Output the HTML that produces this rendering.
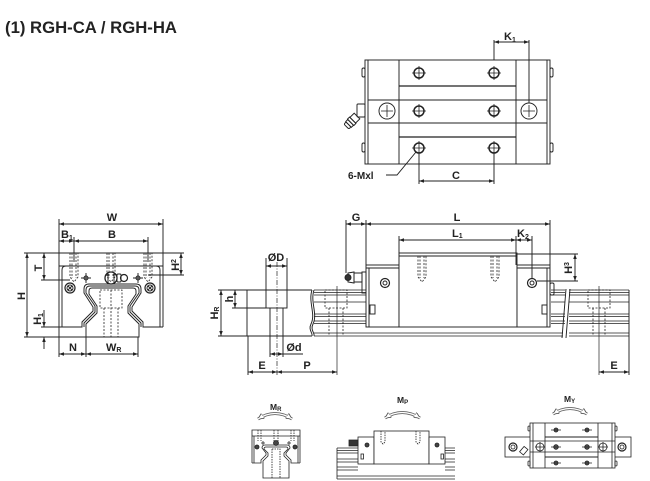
<!DOCTYPE html>
<html>
<head>
<meta charset="utf-8">
<style>
  html,body{margin:0;padding:0;background:#fff;}
  svg{display:block;}
  text{font-family:"Liberation Sans",sans-serif;font-weight:bold;fill:#222;}
</style>
</head>
<body>
<svg width="650" height="481" viewBox="0 0 650 481" xmlns="http://www.w3.org/2000/svg">
<defs>
  <marker id="a" viewBox="0 0 10 10" refX="10" refY="5" markerUnits="userSpaceOnUse" markerWidth="5" markerHeight="5" orient="auto-start-reverse">
    <path d="M0,1.5 L10,5 L0,8.5 z" fill="#222"/>
  </marker>
  <marker id="b" viewBox="0 0 10 10" refX="10" refY="5" markerUnits="userSpaceOnUse" markerWidth="6" markerHeight="6" orient="auto-start-reverse">
    <path d="M0,0 L10,5 L0,10 z" fill="#fff" stroke="#555" stroke-width="1.5"/>
  </marker>
</defs>

<!-- Title -->
<text x="5" y="33" font-size="17" textLength="172" lengthAdjust="spacingAndGlyphs">(1) RGH-CA / RGH-HA</text>

<!-- ================= TOP VIEW ================= -->
<g stroke="#222" fill="none" stroke-width="0.95">
  <rect x="365" y="60" width="185" height="104"/>
  <line x1="368" y1="60" x2="368" y2="164"/>
  <line x1="547" y1="60" x2="547" y2="164"/>
  <line x1="399" y1="60" x2="399" y2="164"/>
  <line x1="516" y1="60" x2="516" y2="164"/>
  <line x1="368" y1="100" x2="547" y2="100"/>
  <line x1="368" y1="123" x2="547" y2="123"/>
  <line x1="399" y1="86" x2="516" y2="86" stroke-width="1.3"/>
  <line x1="399" y1="137" x2="516" y2="137" stroke-width="1.3"/>
  <rect x="362" y="68" width="3" height="9" rx="1.5"/>
  <rect x="362" y="143" width="3" height="9" rx="1.5"/>
  <rect x="550" y="68" width="3" height="9" rx="1.5"/>
  <rect x="550" y="143" width="3" height="9" rx="1.5"/>
  <g stroke-width="1.5">
    <circle cx="419" cy="73" r="5"/><circle cx="494" cy="73" r="5"/>
    <circle cx="419" cy="111" r="5"/><circle cx="494" cy="111" r="5"/>
    <circle cx="419" cy="148" r="5"/><circle cx="494" cy="148" r="5"/>
  </g>
  <circle cx="387" cy="111" r="8"/>
  <circle cx="529" cy="111" r="8"/>
  <g stroke-width="0.8">
    <path d="M412,73 H426 M419,66 V80 M487,73 H501 M494,66 V80"/>
    <path d="M412,111 H426 M419,104 V118 M487,111 H501 M494,104 V118"/>
    <path d="M412,148 H426 M419,141 V155 M487,148 H501 M494,141 V155"/>
    <path d="M381,111 H393 M387,105 V117 M523,111 H535 M529,105 V117"/>
  </g>
  <rect x="357" y="104" width="8" height="13" rx="1"/>
  <g transform="translate(357,116) rotate(45)">
    <rect x="-4" y="0" width="8" height="6"/>
    <rect x="-4.5" y="6" width="9" height="3"/>
    <rect x="-4" y="9" width="8" height="3"/>
    <rect x="-3.5" y="12" width="7" height="3" rx="1.5"/>
  </g>
  <line x1="494" y1="40" x2="494" y2="60"/>
  <line x1="529" y1="40" x2="529" y2="103"/>
  <line x1="494" y1="42" x2="529" y2="42" marker-start="url(#a)" marker-end="url(#a)"/>
  <line x1="419" y1="154" x2="419" y2="184"/>
  <line x1="494" y1="154" x2="494" y2="184"/>
  <line x1="419" y1="181" x2="494" y2="181" marker-start="url(#a)" marker-end="url(#a)"/>
  <path d="M386,175 H397 L416,152"/>
</g>
<text x="504" y="40" font-size="11">K<tspan font-size="7" dy="2">1</tspan></text>
<text x="456" y="179" font-size="11" text-anchor="middle">C</text>
<text x="348" y="179" font-size="10">6-Mxl</text>

<!-- ================= FRONT VIEW ================= -->
<g stroke="#222" fill="none" stroke-width="0.95">
  <path d="M59,327 V253 H163 V327"/>
  <line x1="59" y1="266" x2="163" y2="266"/>
  <path d="M62,327 V270 Q62,266 66,266"/>
  <path d="M160,327 V270 Q160,266 156,266"/>
  <path d="M59,327 H82 V322 L93,311 V307 L84,293 V289 Q84,284 89,284 H136 Q141,284 141,289 V293 L132,307 V311 L143,322 V327 H163"/>
  <path d="M84,327 V323 L95,312 V306 L86,293 V290 Q86,286 90,286 H135 Q139,286 139,290 V293 L130,306 V312 L141,323 V327"/>
  <path d="M86,337 V324 L97,313 V306 L89,294 V291 Q89,288 92,288 H133 Q136,288 136,291 V294 L128,306 V313 L139,324 V337 Z"/>
  <g stroke-dasharray="2,1.5" stroke-width="0.8">
    <rect x="100" y="290" width="22" height="18"/>
    <path d="M104,308 V337 M118,308 V337 M111,290 V337"/>
  </g>
  <g stroke-dasharray="2,1.5" stroke-width="0.8">
    <path d="M70,253 V277 L74,282 L78,277 V253 M72,253 V278 M76,253 V278"/>
    <path d="M107,253 V277 L111,282 L115,277 V253 M109,253 V278 M113,253 V278"/>
    <path d="M144,253 V277 L148,282 L152,277 V253 M146,253 V278 M150,253 V278"/>
  </g>
  <circle cx="86" cy="278" r="2"/><path d="M81,278 H91 M86,273 V283"/>
  <circle cx="138" cy="278" r="2"/><path d="M133,278 H143 M138,273 V283"/>
  <circle cx="111" cy="278" r="6" stroke-width="1.3"/>
  <path d="M108,273 V283 M114,273 V283"/>
  <rect x="117" y="274" width="4" height="8" rx="1"/>
  <circle cx="124" cy="278" r="3.5" stroke-width="1.2"/>
  <circle cx="70" cy="288" r="5" stroke-width="1.2"/><circle cx="70" cy="288" r="3"/>
  <path d="M68,286 L72,290 M72,286 L68,290"/>
  <circle cx="150" cy="288" r="5" stroke-width="1.2"/><circle cx="150" cy="288" r="3"/>
  <path d="M148,286 L152,290 M152,286 L148,290"/>
  <line x1="59" y1="219" x2="59" y2="253"/>
  <line x1="163" y1="219" x2="163" y2="253"/>
  <line x1="59" y1="224" x2="163" y2="224" marker-start="url(#a)" marker-end="url(#a)"/>
  <line x1="74" y1="237" x2="74" y2="262"/>
  <line x1="148" y1="237" x2="148" y2="262"/>
  <line x1="59" y1="241" x2="74" y2="241" marker-start="url(#a)" marker-end="url(#a)"/>
  <line x1="74" y1="241" x2="148" y2="241" marker-start="url(#a)" marker-end="url(#a)"/>
  <line x1="24" y1="253" x2="59" y2="253"/>
  <line x1="24" y1="337" x2="86" y2="337"/>
  <line x1="27" y1="253" x2="27" y2="337" marker-start="url(#a)" marker-end="url(#a)"/>
  <line x1="41" y1="280" x2="70" y2="280"/>
  <line x1="44" y1="253" x2="44" y2="280" marker-start="url(#a)" marker-end="url(#a)"/>
  <line x1="41" y1="327" x2="59" y2="327"/>
  <line x1="44" y1="310" x2="44" y2="327" marker-end="url(#a)"/>
  <line x1="44" y1="349" x2="44" y2="337" marker-end="url(#a)"/>
  <line x1="163" y1="253" x2="184" y2="253"/>
  <line x1="148" y1="275" x2="184" y2="275"/>
  <line x1="181" y1="253" x2="181" y2="275" marker-start="url(#a)" marker-end="url(#a)"/>
  <line x1="59" y1="327" x2="59" y2="357"/>
  <line x1="86" y1="337" x2="86" y2="357"/>
  <line x1="138" y1="337" x2="138" y2="357"/>
  <line x1="59" y1="354" x2="86" y2="354" marker-start="url(#a)" marker-end="url(#a)"/>
  <line x1="86" y1="354" x2="138" y2="354" marker-start="url(#a)" marker-end="url(#a)"/>
</g>
<text x="112" y="221" font-size="11" text-anchor="middle">W</text>
<text x="61" y="238" font-size="11">B<tspan font-size="7" dy="2">1</tspan></text>
<text x="112" y="238" font-size="11" text-anchor="middle">B</text>
<text transform="translate(25,296) rotate(-90)" font-size="11" text-anchor="middle">H</text>
<text transform="translate(42,268) rotate(-90)" font-size="11" text-anchor="middle">T</text>
<text transform="translate(41,319) rotate(-90)" font-size="11" text-anchor="middle">H<tspan font-size="7" dy="2">1</tspan></text>
<text transform="translate(179,265) rotate(-90)" font-size="11" text-anchor="middle">H<tspan font-size="7" dy="-3">2</tspan></text>
<text x="73" y="351" font-size="11" text-anchor="middle">N</text>
<text x="106" y="351" font-size="11">W<tspan font-size="7" dy="1">R</tspan></text>

<!-- ================= SIDE VIEW ================= -->
<g stroke="#222" fill="none" stroke-width="0.95">
  <line x1="247" y1="290" x2="247" y2="336"/>
  <line x1="218" y1="290" x2="312" y2="290"/>
  <line x1="218" y1="336" x2="312" y2="336"/>
  <path d="M312,290 C308,302 316,314 311,324 C308,330 313,333 312,336"/>
  <path d="M314,290 C310,302 318,314 313,324 C310,330 315,333 314,336"/>
  <rect x="266" y="266" width="21" height="42"/>
  <path d="M270,308 V336 M283,308 V336"/>
  <line x1="277" y1="262" x2="277" y2="375" stroke-dasharray="5,1.5,1,1.5" stroke-width="0.7"/>
  <g stroke-width="0.8">
    <path d="M314,290 H366 M314,292.5 H366 M314,295 H366 M314,302 H366 M314,314 H366 M314,316.5 H366 M314,321 H366 M314,323.5 H366"/>
    <path d="M314,333 H563 M314,336 H563"/>
    <path d="M551,290 H565 M551,292.5 H565 M551,295 H565 M551,302 H565 M551,314 H565 M551,316.5 H565 M551,321 H565 M551,323.5 H565"/>
    <path d="M569,290 H629 M569,292.5 H629 M569,295 H629 M569,302 H629 M569,314 H629 M569,316.5 H629 M569,321 H629 M569,323.5 H629 M569,333 H629 M569,336 H629"/>
  </g>
  <line x1="629" y1="290" x2="629" y2="336"/>
  <path d="M566,289 L562,338 M570,289 L566,338"/>
  <g stroke-dasharray="2,1.5" stroke-width="0.8">
    <rect x="325" y="290" width="22" height="18"/>
    <path d="M329,308 V336 M343,308 V336"/>
    <rect x="588" y="290" width="22" height="18"/>
    <path d="M593,308 V336 M605,308 V336"/>
  </g>
  <line x1="337" y1="286" x2="337" y2="375" stroke-width="0.7"/>
  <line x1="599" y1="286" x2="599" y2="375" stroke-width="0.7"/>
  <rect x="366" y="265" width="33" height="62" fill="#fff"/>
  <line x1="366" y1="268" x2="399" y2="268"/>
  <rect x="399" y="253" width="118" height="74" fill="#fff"/>
  <line x1="399" y1="256" x2="517" y2="256"/>
  <rect x="517" y="265" width="33" height="62" fill="#fff"/>
  <line x1="517" y1="268" x2="550" y2="268"/>
  <line x1="547" y1="268" x2="547" y2="327"/>
  <line x1="369" y1="268" x2="369" y2="327"/>
  <rect x="362" y="272" width="4" height="21"/>
  <rect x="550" y="283" width="4" height="12" rx="1.5"/>
  <circle cx="385" cy="283" r="4.5" stroke-width="1.2"/><circle cx="385" cy="283" r="2"/>
  <circle cx="532" cy="283" r="4.5" stroke-width="1.2"/><circle cx="532" cy="283" r="2"/>
  <rect x="370" y="305" width="5" height="9"/>
  <rect x="542" y="305" width="5" height="9"/>
  <g stroke-dasharray="2,1.5" stroke-width="0.8">
    <path d="M418,256 V277 L422,282 L426,277 V256 M420,256 V278 M424,256 V278"/>
    <path d="M491,256 V277 L495,282 L499,277 V256 M493,256 V278 M497,256 V278"/>
  </g>
  <path d="M354,273 H362 V282 H354 Z"/>
  <path d="M348,273 L354,272 L354,283 L348,282 Z" stroke-width="1"/>
  <circle cx="348" cy="277.5" r="3" fill="#333"/>
  <line x1="221" y1="290" x2="221" y2="336" marker-start="url(#a)" marker-end="url(#a)"/>
  <line x1="232" y1="308" x2="266" y2="308"/>
  <line x1="235" y1="290" x2="235" y2="308" marker-start="url(#a)" marker-end="url(#a)"/>
  <line x1="266" y1="258" x2="266" y2="266"/>
  <line x1="287" y1="258" x2="287" y2="266"/>
  <line x1="266" y1="266" x2="287" y2="266" marker-start="url(#a)" marker-end="url(#a)"/>
  <line x1="270" y1="336" x2="270" y2="357"/>
  <line x1="283" y1="336" x2="283" y2="357"/>
  <line x1="270" y1="354" x2="283" y2="354" marker-start="url(#a)" marker-end="url(#a)"/>
  <line x1="283" y1="354" x2="303" y2="354"/>
  <line x1="248" y1="336" x2="248" y2="375"/>
  <line x1="248" y1="372" x2="277" y2="372" marker-start="url(#a)" marker-end="url(#a)"/>
  <line x1="277" y1="372" x2="337" y2="372" marker-start="url(#a)" marker-end="url(#a)"/>
  <line x1="629" y1="336" x2="629" y2="375"/>
  <line x1="599" y1="372" x2="629" y2="372" marker-start="url(#a)" marker-end="url(#a)"/>
  <line x1="346" y1="220" x2="346" y2="273"/>
  <line x1="366" y1="220" x2="366" y2="265"/>
  <line x1="550" y1="220" x2="550" y2="265"/>
  <line x1="346" y1="224" x2="366" y2="224" marker-start="url(#a)" marker-end="url(#a)"/>
  <line x1="366" y1="224" x2="550" y2="224" marker-start="url(#a)" marker-end="url(#a)"/>
  <line x1="399" y1="236" x2="399" y2="253"/>
  <line x1="516" y1="236" x2="516" y2="265"/>
  <line x1="532" y1="236" x2="532" y2="279"/>
  <line x1="399" y1="240" x2="516" y2="240" marker-start="url(#a)" marker-end="url(#a)"/>
  <line x1="516" y1="240" x2="532" y2="240" marker-start="url(#a)" marker-end="url(#a)"/>
  <line x1="517" y1="254" x2="578" y2="254"/>
  <line x1="537" y1="281" x2="578" y2="281"/>
  <line x1="575" y1="254" x2="575" y2="281" marker-start="url(#a)" marker-end="url(#a)"/>
</g>
<text transform="translate(218,313) rotate(-90)" font-size="11" text-anchor="middle">H<tspan font-size="7" dy="1">R</tspan></text>
<text transform="translate(233,299) rotate(-90)" font-size="11" text-anchor="middle">h</text>
<text x="276" y="261" font-size="11" text-anchor="middle">ØD</text>
<text x="294" y="351" font-size="11" text-anchor="middle">Ød</text>
<text x="262" y="369" font-size="11" text-anchor="middle">E</text>
<text x="307" y="369" font-size="11" text-anchor="middle">P</text>
<text x="614" y="369" font-size="11" text-anchor="middle">E</text>
<text x="356" y="221" font-size="11" text-anchor="middle">G</text>
<text x="457" y="221" font-size="11" text-anchor="middle">L</text>
<text x="452" y="237" font-size="11">L<tspan font-size="7" dy="1">1</tspan></text>
<text x="517" y="237" font-size="11">K<tspan font-size="7" dy="2">2</tspan></text>
<text transform="translate(572,268) rotate(-90)" font-size="11" text-anchor="middle">H<tspan font-size="7" dy="-3">3</tspan></text>

<!-- ================= MOMENT ICONS ================= -->
<g fill="none">
  <path d="M258,419 Q275,408 292,419" stroke="#666" stroke-width="3" marker-start="url(#b)" marker-end="url(#b)"/>
  <path d="M258,419 Q275,408 292,419" stroke="#fff" stroke-width="1.2"/>
  <path d="M385,418 Q402,407 420,418" stroke="#666" stroke-width="3" marker-start="url(#b)" marker-end="url(#b)"/>
  <path d="M385,418 Q402,407 420,418" stroke="#fff" stroke-width="1.2"/>
  <path d="M553,414 Q570,403 587,414" stroke="#666" stroke-width="3" marker-start="url(#b)" marker-end="url(#b)"/>
  <path d="M553,414 Q570,403 587,414" stroke="#fff" stroke-width="1.2"/>
</g>
<text x="270" y="410" font-size="8.5">M<tspan font-size="6" dy="1">R</tspan></text>
<text x="397" y="403" font-size="8.5">M<tspan font-size="6" dy="1">P</tspan></text>
<text x="564" y="402" font-size="8.5">M<tspan font-size="6" dy="1">Y</tspan></text>

<!-- MR icon -->
<g stroke="#222" fill="none" stroke-width="0.8">
  <path d="M252,463 V430 H300 V463"/>
  <line x1="252" y1="436" x2="300" y2="436"/>
  <line x1="254" y1="436" x2="254" y2="463"/>
  <line x1="298" y1="436" x2="298" y2="463"/>
  <path d="M252,463 H261 V460 L266,455 V453 L262,448 Q262,445 265,445 H287 Q290,445 290,448 L286,453 V455 L291,460 V463 H300"/>
  <path d="M263,478 V461 L268,456 V453 L264,449 Q264,447 266,447 H286 Q288,447 288,449 L284,453 V456 L289,461 V478 Z"/>
  <path d="M272,449 H280 V478 M272,449 V478" stroke-dasharray="1.5,1"/>
  <path d="M258,430 V441 M261,430 V441 M274,430 V441 M278,430 V441 M291,430 V441 M294,430 V441" stroke-dasharray="1.5,1"/>
  <circle cx="276" cy="443" r="2.5" fill="#444"/>
  <circle cx="257" cy="447" r="2" fill="#444"/>
  <circle cx="295" cy="447" r="2" fill="#444"/>
  <path d="M261,443 h4 M263,441 v4 M287,443 h4 M289,441 v4"/>
</g>

<!-- MP icon -->
<g stroke="#222" fill="none" stroke-width="0.8">
  <path d="M337,448 H358 M337,450.5 H358 M337,453 H358 M337,459 H358 M337,462 H358 M337,467 H358 M337,470 H358"/>
  <path d="M445,448 H455 M445,450.5 H455 M445,453 H455 M445,459 H455 M445,462 H455 M445,467 H455 M445,470 H455"/>
  <path d="M337,448 V479"/>
  <path d="M337,476 H455 M337,479 H455"/>
  <rect x="358" y="437" width="16" height="27" fill="#fff"/>
  <rect x="374" y="431" width="55" height="33" fill="#fff"/>
  <rect x="429" y="437" width="16" height="27" fill="#fff"/>
  <circle cx="367" cy="445" r="2" fill="#444"/>
  <circle cx="437" cy="445" r="2" fill="#444"/>
  <rect x="361" y="454" width="2.5" height="5"/>
  <rect x="441" y="454" width="2.5" height="5"/>
  <path d="M381,431 V442 L383,444 L385,442 V431 M416,431 V442 L418,444 L420,442 V431" stroke-dasharray="1.5,1"/>
  <path d="M349,440 H358 V446 H349 Z" fill="#333"/>
</g>

<!-- MY icon -->
<g stroke="#222" fill="none" stroke-width="0.8">
  <rect x="505" y="437" width="126" height="20"/>
  <rect x="530" y="423" width="85" height="45" fill="#fff"/>
  <line x1="533" y1="423" x2="533" y2="468"/>
  <line x1="612" y1="423" x2="612" y2="468"/>
  <line x1="545" y1="423" x2="545" y2="468"/>
  <line x1="598" y1="423" x2="598" y2="468"/>
  <line x1="530" y1="441" x2="615" y2="441"/>
  <line x1="530" y1="452" x2="615" y2="452"/>
  <line x1="545" y1="437" x2="598" y2="437" stroke-width="1.1"/>
  <line x1="545" y1="457" x2="598" y2="457" stroke-width="1.1"/>
  <circle cx="513" cy="447" r="4" stroke-width="1.2"/><circle cx="513" cy="447" r="2"/>
  <circle cx="622" cy="447" r="4" stroke-width="1.2"/><circle cx="622" cy="447" r="2"/>
  <circle cx="540" cy="447" r="4"/><path d="M535,447 H545 M540,442 V452"/>
  <circle cx="603" cy="447" r="4"/><path d="M598,447 H608 M603,442 V452"/>
  <g fill="#555">
    <circle cx="556" cy="430" r="2"/><circle cx="587" cy="430" r="2"/>
    <circle cx="556" cy="447" r="2.3"/><circle cx="587" cy="447" r="2.3"/>
    <circle cx="556" cy="463" r="2"/><circle cx="587" cy="463" r="2"/>
  </g>
  <path d="M551,430 H561 M582,430 H592 M551,447 H561 M582,447 H592 M551,463 H561 M582,463 H592"/>
  <rect x="528" y="426" width="2" height="5" rx="1"/>
  <rect x="528" y="461" width="2" height="5" rx="1"/>
  <rect x="615" y="426" width="2" height="5" rx="1"/>
  <rect x="615" y="461" width="2" height="5" rx="1"/>
  <g transform="translate(526,448) rotate(40)"><rect x="-2.5" y="0" width="5" height="7"/></g>
</g>
</svg>
</body>
</html>
